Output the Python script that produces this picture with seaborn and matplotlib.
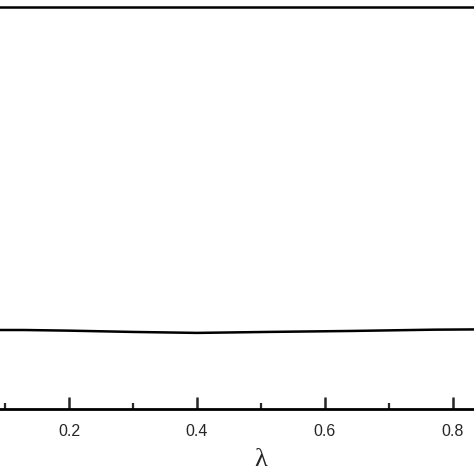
import numpy as np
import pandas as pd
import matplotlib
matplotlib.use('Agg')
import matplotlib.pyplot as plt
import seaborn as sns
from matplotlib.ticker import MultipleLocator

# значения
lam = [0.08, 0.13, 0.20, 0.30, 0.40, 0.51, 0.64, 0.77, 0.85]
upper = [1.0, 1.0, 1.0, 1.0, 1.0, 1.0, 1.0, 1.0, 1.0]
lower = [0.0, 0.0, -0.002, -0.006, -0.009, -0.006, -0.003, 0.001, 0.002]
xticks = [0.2, 0.4, 0.6, 0.8]

df = pd.DataFrame({'lam': lam * 2,
                   'val': upper + lower,
                   'curve': ['upper'] * len(lam) + ['lower'] * len(lam)})

sns.set_style('ticks')
plt.rcParams['font.family'] = ['Liberation Sans', 'DejaVu Sans']

fig = plt.figure(figsize=(4.74, 4.74), dpi=100)
# оси шире рисунка: слева и справа обрезаны, как в оригинале
ax = fig.add_axes([-59 / 474, 65 / 474, 640 / 474, 409 / 474])

sns.lineplot(data=df, x='lam', y='val', units='curve', estimator=None,
             color='black', linewidth=1.8, ax=ax, legend=False)

ax.set_xlim(0, 1)
ax.set_ylim(-79 / 323, 1 + 7 / 323)
ax.set_xticks(xticks)
ax.set_xticklabels([str(t) for t in xticks])
ax.xaxis.set_minor_locator(MultipleLocator(0.1))
ax.tick_params(axis='x', which='major', direction='in', length=9, width=1.8,
               labelsize=11.5, pad=11)
ax.tick_params(axis='x', which='minor', direction='in', length=4, width=1.6)
ax.set_yticks([])
ax.set_ylabel('')
for s in ['top', 'right', 'left']:
    ax.spines[s].set_visible(False)
ax.spines['bottom'].set_linewidth(2)
ax.spines['bottom'].set_color('black')

ax.set_xlabel('λ', family=['Liberation Serif', 'DejaVu Serif'], fontsize=19, labelpad=7)

fig.savefig('out.png', dpi=100)
